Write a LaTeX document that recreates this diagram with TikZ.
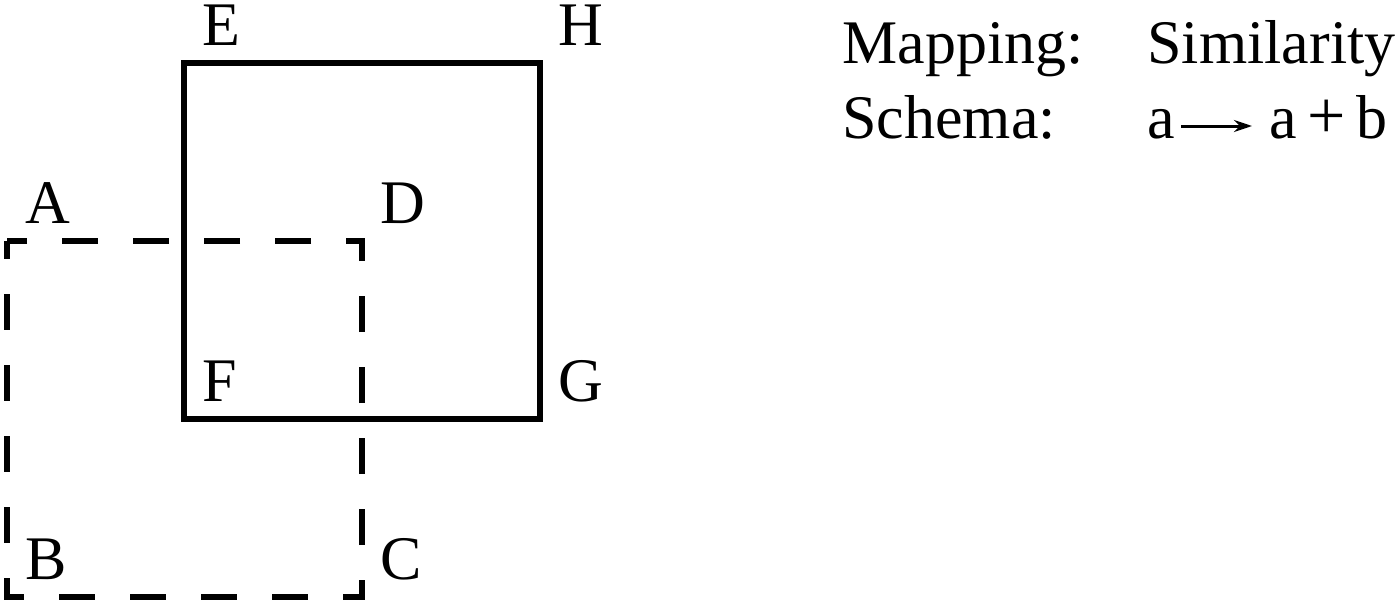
\documentclass[tikz,border=0pt]{standalone}
\usepackage{fontspec}
\setmainfont{Liberation Serif}
\usetikzlibrary{arrows.meta}
\begin{document}
\begin{tikzpicture}[x=0.5pt, y=-0.5pt,
  every node/.style={font=\fontsize{31}{37}\selectfont, inner sep=0pt},
  corner/.style={anchor=base west, text height=0.7em, xshift=9pt, yshift=9pt},
  txt/.style={anchor=base west}]

\useasboundingbox (0,0) rectangle (1400,605);

\coordinate (A) at (7,241);
\coordinate (B) at (7,597);
\coordinate (C) at (362,597);
\coordinate (D) at (362,241);

\coordinate (E) at (184,63);
\coordinate (F) at (184,419);
\coordinate (G) at (540,419);
\coordinate (H) at (540,63);

\draw[line width=3.3pt, black, dash pattern=on 18pt off 17.5pt, dash phase=9pt] (A) -- (B) -- (C) -- (D) -- cycle;
\draw[line width=3.3pt, black] (E) -- (F) -- (G) -- (H) -- cycle;

\node[corner] (lA) at (A){A};
\node[corner] (lB) at (B){B};
\node[corner] (lC) at (C){C};
\node[corner] (lD) at (D){D};
\node[corner] (lE) at (E){E};
\node[corner] (lF) at (F){F};
\node[corner] (lG) at (G){G};
\node[corner] (lH) at (H){H};

\node[txt] (map) at (842,63){Mapping:};
\node[txt] (sim) at (1147,63){Similarity};
\node[txt] (sch) at (842,138){Schema:};
\node[txt] (sa) at (1147,138){a};
\node[txt] (sab) at (1269,138){a\hspace{0.17em}{\fontsize{34}{37}\selectfont+}\hspace{0.17em}b};

\draw[line width=1.5pt, -{Stealth[length=9pt,width=6pt]}] ([xshift=3pt,yshift=6pt]sa.base east) -- ([xshift=-8.5pt,yshift=6pt]sab.base west);

\end{tikzpicture}
\end{document}
